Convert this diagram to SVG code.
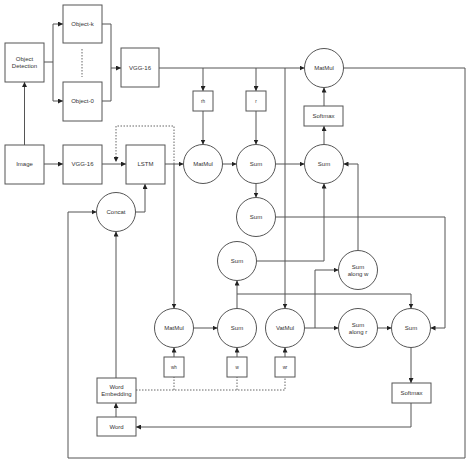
<svg xmlns="http://www.w3.org/2000/svg" width="474" height="462" viewBox="0 0 474 462">
<defs>
<style>
.n{fill:#fff;stroke:#555;stroke-width:1}
.t{font-family:"Liberation Sans",Arial,sans-serif;font-size:6px;fill:#333;text-anchor:middle;dominant-baseline:central}
.s{font-size:4.5px}
.c{fill:none;stroke:#555;stroke-width:1}
.a{marker-end:url(#arr)}
.d{fill:none;stroke:#666;stroke-width:1;stroke-dasharray:1.5 1.5}
</style>
<marker id="arr" markerUnits="userSpaceOnUse" markerWidth="5" markerHeight="5" refX="5" refY="2.5" orient="auto">
<path d="M0,0 L5,2.5 L0,5 z" fill="#222"/>
</marker>
</defs>
<rect width="474" height="462" fill="#fff"/>
<g id="connectors">
<path class="c a" d="M24.5,145 V82"/>
<path class="c a" d="M44,164 H63"/>
<path class="c" d="M44,62 H53"/>
<path class="c a" d="M53,62 V24 H63"/>
<path class="c a" d="M53,62 V101 H63"/>
<path class="c" d="M102,24 H111 V101 H102"/>
<path class="c a" d="M111,68 H121"/>
<path class="d" d="M82,49 V77"/>
<path class="c a" d="M159,68 H304.5"/>
<path class="c a" d="M203,68 V91"/>
<path class="c a" d="M256,68 V91"/>
<path class="c a" d="M285,68 V308.5"/>
<path class="c a" d="M203,111 V144.5"/>
<path class="c a" d="M256,111 V144.5"/>
<path class="c a" d="M102,164 H126"/>
<path class="c a" d="M165,164 H183.5"/>
<path class="c a" d="M174,164 V308.5"/>
<path class="d a" d="M174,164 V126 H116 V162"/>
<path class="c a" d="M222.5,164 H236.5"/>
<path class="c a" d="M275.5,164 H304.5"/>
<path class="c a" d="M256,183.5 V197.5"/>
<path class="c a" d="M324,144.5 V126"/>
<path class="c a" d="M324,106 V87.5"/>
<path class="c a" d="M343.5,68 H465 V458 H68 V212 H96.5"/>
<path class="c a" d="M135.5,212 H145 V184"/>
<path class="c a" d="M116,378 V231.5"/>
<path class="c a" d="M116,417 V403"/>
<path class="c a" d="M275.5,217 H445 V328 H430.5"/>
<path class="c a" d="M256.5,261 H324 V183.5"/>
<path class="c a" d="M358,250.5 V164 H343.5"/>
<path class="c a" d="M193.5,328 H217.5"/>
<path class="c a" d="M237,308.5 V280.5"/>
<path class="c a" d="M237,294 H411 V308.5"/>
<path class="c a" d="M304.5,328 H338.5"/>
<path class="c a" d="M315,328 V270 H338.5"/>
<path class="c a" d="M377.5,328 H391.5"/>
<path class="c a" d="M411,347.5 V383"/>
<path class="c a" d="M411,403 V427 H136"/>
<path class="c a" d="M174,357 V347.5"/>
<path class="c a" d="M237,357 V347.5"/>
<path class="c a" d="M285,357 V347.5"/>
<path class="d" d="M136,390 H285 V377"/>
<path class="d" d="M174,390 V377"/>
<path class="d" d="M237,390 V377"/>
</g>
<g id="object-detection"><rect class="n" x="5" y="43" width="39" height="39"/><text class="t" x="24.5" y="59">Object</text><text class="t" x="24.5" y="66">Detection</text></g>
<g id="object-k"><rect class="n" x="63" y="5" width="39" height="38"/><text class="t" x="82.5" y="24">Object-k</text></g>
<g id="object-0"><rect class="n" x="63" y="82" width="39" height="39"/><text class="t" x="82.5" y="101">Object-0</text></g>
<g id="vgg16-top"><rect class="n" x="121" y="48" width="38" height="39"/><text class="t" x="140" y="68">VGG-16</text></g>
<g id="image"><rect class="n" x="5" y="145" width="39" height="39"/><text class="t" x="24.5" y="164">Image</text></g>
<g id="vgg16-low"><rect class="n" x="63" y="145" width="39" height="39"/><text class="t" x="82.5" y="164">VGG-16</text></g>
<g id="lstm"><rect class="n" x="126" y="145" width="39" height="39"/><text class="t" x="145.5" y="164">LSTM</text></g>
<g id="rh"><rect class="n" x="193" y="91" width="20" height="20"/><text class="t s" x="203" y="101">rh</text></g>
<g id="r"><rect class="n" x="246" y="91" width="20" height="20"/><text class="t s" x="256" y="101">r</text></g>
<g id="matmul1"><circle class="n" cx="203" cy="164" r="19.5"/><text class="t" x="203" y="164">MatMul</text></g>
<g id="sum1"><circle class="n" cx="256" cy="164" r="19.5"/><text class="t" x="256" y="164">Sum</text></g>
<g id="sum2"><circle class="n" cx="256" cy="217" r="19.5"/><text class="t" x="256" y="217">Sum</text></g>
<g id="sum3"><circle class="n" cx="324" cy="164" r="19.5"/><text class="t" x="324" y="164">Sum</text></g>
<g id="softmax-top"><rect class="n" x="304" y="106" width="39" height="20"/><text class="t" x="323.5" y="116">Softmax</text></g>
<g id="matmul-top"><circle class="n" cx="324" cy="68" r="19.5"/><text class="t" x="324" y="68">MatMul</text></g>
<g id="concat"><circle class="n" cx="116" cy="212" r="19.5"/><text class="t" x="116" y="212">Concat</text></g>
<g id="sum4"><circle class="n" cx="237" cy="261" r="19.5"/><text class="t" x="237" y="261">Sum</text></g>
<g id="sum-along-w"><circle class="n" cx="358" cy="270" r="19.5"/><text class="t" x="358" y="266.5">Sum</text><text class="t" x="358" y="273.5">along w</text></g>
<g id="matmul2"><circle class="n" cx="174" cy="328" r="19.5"/><text class="t" x="174" y="328">MatMul</text></g>
<g id="sum5"><circle class="n" cx="237" cy="328" r="19.5"/><text class="t" x="237" y="328">Sum</text></g>
<g id="vatmul"><circle class="n" cx="285" cy="328" r="19.5"/><text class="t" x="285" y="328">VatMul</text></g>
<g id="sum-along-r"><circle class="n" cx="358" cy="328" r="19.5"/><text class="t" x="358" y="324.5">Sum</text><text class="t" x="358" y="331.5">along r</text></g>
<g id="sum6"><circle class="n" cx="411" cy="328" r="19.5"/><text class="t" x="411" y="328">Sum</text></g>
<g id="softmax-bottom"><rect class="n" x="392" y="383" width="39" height="20"/><text class="t" x="411.5" y="393">Softmax</text></g>
<g id="wh"><rect class="n" x="164" y="357" width="20" height="20"/><text class="t s" x="174" y="367">wh</text></g>
<g id="w"><rect class="n" x="227" y="357" width="20" height="20"/><text class="t s" x="237" y="367">w</text></g>
<g id="wr"><rect class="n" x="275" y="357" width="20" height="20"/><text class="t s" x="285" y="367">wr</text></g>
<g id="word-embedding"><rect class="n" x="97" y="378" width="39" height="25"/><text class="t" x="116.5" y="387">Word</text><text class="t" x="116.5" y="394">Embedding</text></g>
<g id="word"><rect class="n" x="97" y="417" width="39" height="19"/><text class="t" x="116.5" y="426.5">Word</text></g>
</svg>
